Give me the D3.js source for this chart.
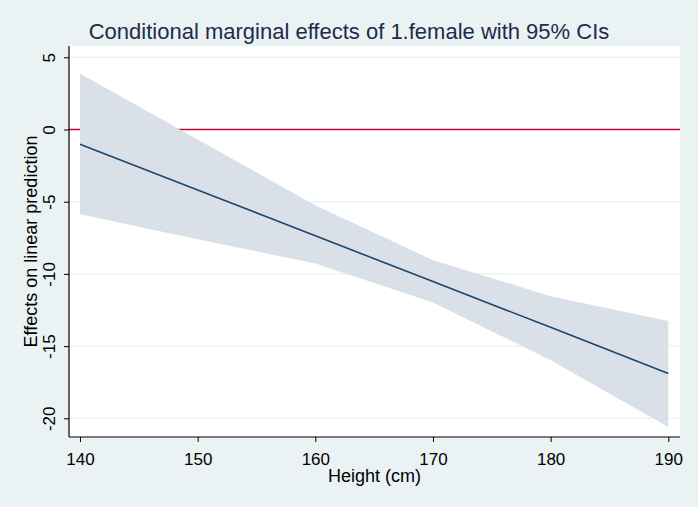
<!DOCTYPE html>
<html>
<head>
<meta charset="utf-8">
<script src="https://cdn.jsdelivr.net/npm/d3@7"></script>
<style>
  body { margin: 0; background: #eaf2f3; }
  svg { display: block; font-family: "Liberation Sans", Arial, sans-serif; }
</style>
</head>
<body>
<svg width="698" height="507"></svg>
<script>
// values
var heights = [140, 150, 160, 170, 180, 190];
var effect  = [-1.02, -4.19, -7.36, -10.53, -13.7, -16.9];
var upper   = [3.88, -0.7, -5.24, -9.05, -11.54, -13.27];
var lower   = [-5.87, -7.6, -9.28, -11.98, -15.98, -20.6];
var xTicks = [140, 150, 160, 170, 180, 190];
var yTicks = [5, 0, -5, -10, -15, -20];

var svg = d3.select("svg");
var plotL = 69, plotR = 680, plotT = 46, plotB = 437;
var font = "'Liberation Sans', Arial, sans-serif";

var x = d3.scaleLinear().domain([140, 190]).range([80, 668.3]);
var y = d3.scaleLinear().domain([-20, 5]).range([418.3, 57.3]);

// plot region
svg.append("rect")
    .attr("x", plotL).attr("y", plotT)
    .attr("width", plotR - plotL).attr("height", plotB - plotT)
    .attr("fill", "#fff");

// grid
svg.append("g").selectAll("line")
    .data(yTicks)
    .enter().append("line")
    .attr("x1", plotL).attr("x2", plotR)
    .attr("y1", function(d){ return y(d); })
    .attr("y2", function(d){ return y(d); })
    .attr("stroke", "#eaf2f3")
    .attr("stroke-width", 1.2);

// reference line at 0
svg.append("line")
    .attr("x1", plotL).attr("x2", plotR)
    .attr("y1", y(0)).attr("y2", y(0))
    .attr("stroke", "#c10534")
    .attr("stroke-width", 1.3);

var rows = heights.map(function(h, i){
    return {h: h, e: effect[i], hi: upper[i], lo: lower[i]};
});

// CI band
var area = d3.area()
    .x(function(d){ return x(d.h); })
    .y0(function(d){ return y(d.lo); })
    .y1(function(d){ return y(d.hi); });
svg.append("path")
    .datum(rows)
    .attr("d", area)
    .attr("fill", "#d9e0e8");

// effect line
var line = d3.line()
    .x(function(d){ return x(d.h); })
    .y(function(d){ return y(d.e); });
svg.append("path")
    .datum(rows)
    .attr("d", line)
    .attr("fill", "none")
    .attr("stroke", "#1a476f")
    .attr("stroke-width", 1.6);

// axes
var yAxis = d3.axisLeft(y).tickValues(yTicks).tickSize(5)
    .tickFormat(function(d){ return String(d); });
var gy = svg.append("g")
    .attr("transform", "translate(" + plotL + ",0)")
    .call(yAxis)
    .attr("font-family", font)
    .attr("font-size", 17);
gy.select(".domain").attr("d", "M0," + plotT + "V" + plotB);
gy.selectAll(".tick text")
    .attr("x", 0).attr("y", 0).attr("dy", 0)
    .attr("transform", "translate(-14,0) rotate(-90)")
    .attr("text-anchor", "middle")
    .attr("fill", "#000");

var xAxis = d3.axisBottom(x).tickValues(xTicks).tickSize(5).tickPadding(11);
var gx = svg.append("g")
    .attr("transform", "translate(0," + plotB + ")")
    .call(xAxis)
    .attr("font-family", font)
    .attr("font-size", 17);
gx.select(".domain").attr("d", "M" + plotL + ",0H" + plotR);
gx.selectAll(".tick text").attr("fill", "#000");

svg.selectAll(".domain").attr("stroke", "#000").attr("stroke-width", 1.2);
svg.selectAll(".tick line").attr("stroke", "#000");

// titles
svg.append("text")
    .attr("x", 349).attr("y", 39)
    .attr("text-anchor", "middle")
    .attr("font-size", 22)
    .attr("fill", "#1e2b4c")
    .text("Conditional marginal effects of 1.female with 95% CIs");

svg.append("text")
    .attr("x", (plotL + plotR) / 2).attr("y", 482)
    .attr("text-anchor", "middle")
    .attr("font-size", 18)
    .attr("fill", "#000")
    .text("Height (cm)");

svg.append("text")
    .attr("transform", "translate(37," + (plotT + plotB) / 2 + ") rotate(-90)")
    .attr("text-anchor", "middle")
    .attr("font-size", 18)
    .attr("fill", "#000")
    .text("Effects on linear prediction");
</script>
</body>
</html>
